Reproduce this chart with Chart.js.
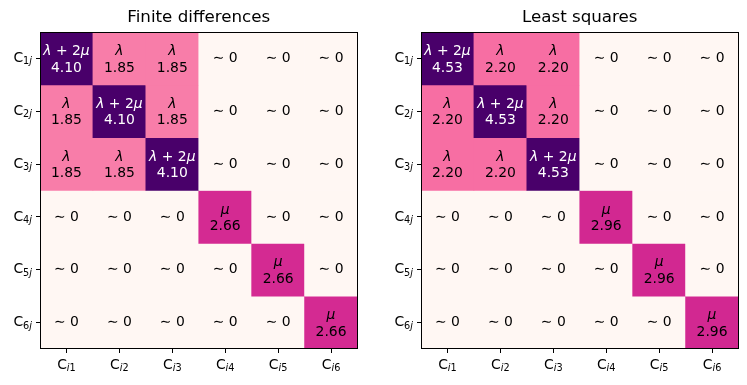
<!DOCTYPE html>
<html lang="en">
<head>
<meta charset="UTF-8">
<title>Finite differences vs Least squares</title>
<script src="https://cdn.jsdelivr.net/npm/chart.js@4"></script>
<style>
    body { margin: 0; background: #fff; width: 747px; height: 385px; overflow: hidden; position: relative; }
    canvas { position: absolute; top: 0; }
</style>
</head>
<body>
<canvas id="fdChart" width="373" height="385" style="left:0"></canvas>
<canvas id="lsChart" width="374" height="385" style="left:373px"></canvas>
<script>
// row / column indices of C_ij
const rowLabels = ['1', '2', '3', '4', '5', '6'];
const colLabels = ['1', '2', '3', '4', '5', '6'];

// finite differences stiffness values
const fdValues = [
    [4.10, 1.85, 1.85, 0, 0, 0],
    [1.85, 4.10, 1.85, 0, 0, 0],
    [1.85, 1.85, 4.10, 0, 0, 0],
    [0, 0, 0, 2.66, 0, 0],
    [0, 0, 0, 0, 2.66, 0],
    [0, 0, 0, 0, 0, 2.66]
];

// least squares stiffness values
const lsValues = [
    [4.53, 2.20, 2.20, 0, 0, 0],
    [2.20, 4.53, 2.20, 0, 0, 0],
    [2.20, 2.20, 4.53, 0, 0, 0],
    [0, 0, 0, 2.96, 0, 0],
    [0, 0, 0, 0, 2.96, 0],
    [0, 0, 0, 0, 0, 2.96]
];

// symbol shown above each value ('' -> "~ 0")
const symbols = [
    ['l2m', 'l', 'l', '', '', ''],
    ['l', 'l2m', 'l', '', '', ''],
    ['l', 'l', 'l2m', '', '', ''],
    ['', '', '', 'm', '', ''],
    ['', '', '', '', 'm', ''],
    ['', '', '', '', '', 'm']
];

const FONT = '"DejaVu Sans", sans-serif';
const RDPU = ['#fff7f3', '#fde0dd', '#fcc5c0', '#fa9fb5', '#f768a1', '#dd3497', '#ae017e', '#7a0177', '#49006a'];

function hex(h) {
    return [1, 3, 5].map(i => parseInt(h.substr(i, 2), 16));
}

function rdpu(t) {
    t = Math.max(0, Math.min(1, t));
    const p = t * (RDPU.length - 1);
    const i = Math.min(Math.floor(p), RDPU.length - 2);
    const f = p - i;
    const a = hex(RDPU[i]), b = hex(RDPU[i + 1]);
    const c = a.map((v, k) => Math.round(v + (b[k] - v) * f));
    return 'rgb(' + c.join(',') + ')';
}

// draw a list of text pieces {t, it, sub} centred at x,y
function richText(ctx, parts, x, y, size, color, align) {
    const widths = parts.map(p => {
        ctx.font = (p.it ? 'italic ' : '') + (p.sub ? size * 0.7 : size) + 'px ' + FONT;
        return ctx.measureText(p.t).width;
    });
    const total = widths.reduce((a, b) => a + b, 0);
    let cx = align === 'right' ? x - total : x - total / 2;
    ctx.fillStyle = color;
    ctx.textAlign = 'left';
    ctx.textBaseline = 'middle';
    parts.forEach((p, k) => {
        ctx.font = (p.it ? 'italic ' : '') + (p.sub ? size * 0.7 : size) + 'px ' + FONT;
        ctx.fillText(p.t, cx, p.sub ? y + 3.5 : y);
        cx += widths[k];
    });
}

const symbolParts = {
    l2m: [{ t: 'λ', it: true }, { t: ' + 2' }, { t: 'μ', it: true }],
    l: [{ t: 'λ', it: true }],
    m: [{ t: 'μ', it: true }]
};

const annotate = {
    id: 'annotate',
    afterDraw(chart) {
        const ctx = chart.ctx;
        const area = chart.chartArea;
        const values = chart.options.plugins.annotate.values;
        const vmax = Math.max(...values.flat());
        ctx.save();

        // cell texts
        values.forEach((row, r) => {
            const meta = chart.getDatasetMeta(r);
            row.forEach((v, c) => {
                const pt = meta.data[c].getCenterPoint();
                const color = v / vmax > 0.8 ? '#fff' : '#000';
                const sym = symbols[r][c];
                if (sym) {
                    richText(ctx, symbolParts[sym], pt.x, pt.y - 7, 13.9, color);
                    richText(ctx, [{ t: v.toFixed(2) }], pt.x, pt.y + 9.5, 13.9, color);
                } else {
                    richText(ctx, [{ t: '∼ 0' }], pt.x, pt.y, 13.9, color);
                }
            });
        });

        // frame
        ctx.strokeStyle = '#000';
        ctx.lineWidth = 1;
        ctx.strokeRect(Math.round(area.left) + 0.5, Math.round(area.top) + 0.5,
            Math.round(area.right - area.left) - 1, Math.round(area.bottom - area.top) - 1);

        // tick labels
        const ys = chart.scales.y, xs = chart.scales.x;
        rowLabels.forEach((lab, i) => {
            const y = ys.getPixelForValue(i + 0.5);
            richText(ctx, [{ t: 'C' }, { t: lab, sub: true }, { t: 'j', it: true, sub: true }],
                area.left - 8, y, 13.9, '#000', 'right');
        });
        colLabels.forEach((lab, i) => {
            const x = xs.getPixelForValue(i);
            richText(ctx, [{ t: 'C' }, { t: 'i', it: true, sub: true }, { t: lab, sub: true }],
                x, area.bottom + 16, 13.9, '#000');
        });

        // title
        richText(ctx, [{ t: chart.options.plugins.annotate.title }],
            (area.left + area.right) / 2, area.top - 14, 16.7, '#000');
        ctx.restore();
    }
};

function heatmap(id, title, values, pad) {
    const vmax = Math.max(...values.flat());
    const axisGrid = {
        display: true, drawOnChartArea: false, drawTicks: true,
        tickLength: 4, tickWidth: 1, tickColor: '#000', offset: false
    };
    return new Chart(document.getElementById(id), {
        type: 'bar',
        data: {
            labels: colLabels,
            datasets: values.map((row, r) => ({
                label: 'C' + rowLabels[r] + 'j',
                data: row.map(() => 1),
                backgroundColor: row.map(v => rdpu(v / vmax)),
                borderWidth: 0,
                barPercentage: 1,
                categoryPercentage: 1
            }))
        },
        options: {
            responsive: false,
            animation: false,
            devicePixelRatio: 1,
            layout: { padding: pad },
            plugins: {
                legend: { display: false },
                tooltip: { enabled: false },
                annotate: { values: values, title: title }
            },
            scales: {
                x: {
                    stacked: true,
                    grid: axisGrid,
                    border: { display: false },
                    ticks: { display: false }
                },
                y: {
                    stacked: true,
                    reverse: true,
                    min: 0,
                    max: rowLabels.length,
                    afterBuildTicks: s => { s.ticks = rowLabels.map((_, i) => ({ value: i + 0.5 })); },
                    grid: axisGrid,
                    border: { display: false },
                    ticks: { display: false }
                }
            }
        },
        plugins: [annotate]
    });
}

heatmap('fdChart', 'Finite differences', fdValues, { left: 36, top: 32, right: 15.5, bottom: 32 });
heatmap('lsChart', 'Least squares', lsValues, { left: 44, top: 32, right: 8.5, bottom: 32 });
</script>
</body>
</html>
